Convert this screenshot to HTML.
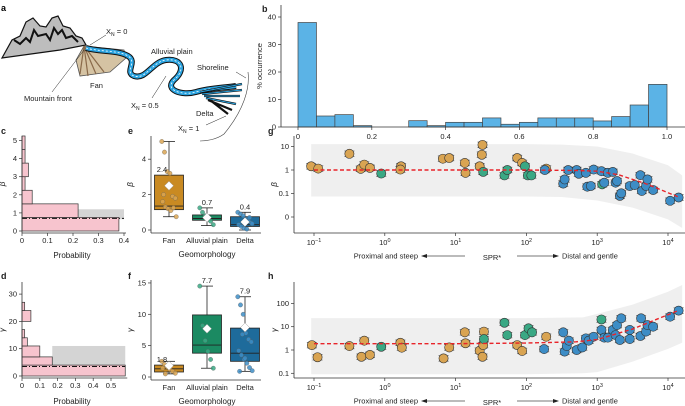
<!DOCTYPE html>
<html><head><meta charset="utf-8">
<style>
html,body{margin:0;padding:0;background:#fff;}
svg{display:block;font-family:"Liberation Sans",Arial,sans-serif;}
</style></head>
<body>
<svg id="fig" width="685" height="406" viewBox="0 0 685 406" xmlns="http://www.w3.org/2000/svg">
<g>
  <text x="1" y="11" font-size="9" font-weight="bold">a</text>
  <polygon points="2,58 12,40 20,36 26,22 33,18 40,26 46,27 52,18 58,16 63,26 70,28 76,36 82,38 86,45 60,50 2,58" fill="#bdbdbd" stroke="#111" stroke-width="1.2"/>
  <polyline points="14,40 20,44 26,38 30,42 34,30 38,36 46,34 50,40 54,28 58,34 62,30 66,38 72,36 78,42" fill="none" stroke="#111" stroke-width="2"/>
  <polygon points="84,46 124,50 126,58 110,72 80,76 76,60" fill="#d5c3a3" stroke="#555" stroke-width="0.8"/>
  <path d="M84,46 L80,74 M84,46 L88,76 M84,46 L96,74 M84,46 L104,72" stroke="#8a6a4a" stroke-width="1.2"/>
  <path d="M86,48 C100,52 118,50 128,56 C138,62 124,72 134,76 C146,80 152,62 166,60 C182,58 186,70 174,80 C164,90 182,96 196,92 C210,88 222,88 236,86" fill="none" stroke="#111" stroke-width="6"/>
  <path d="M86,48 C100,52 118,50 128,56 C138,62 124,72 134,76 C146,80 152,62 166,60 C182,58 186,70 174,80 C164,90 182,96 196,92 C210,88 222,88 236,86" fill="none" stroke="#2aa3e0" stroke-width="4"/>
  <path d="M86,48 C100,52 118,50 128,56 C138,62 124,72 134,76 C146,80 152,62 166,60 C182,58 186,70 174,80 C164,90 182,96 196,92 C210,88 222,88 236,86" fill="none" stroke="#fff" stroke-width="0.8" stroke-dasharray="2,2"/>
  <path d="M200,92 L242,84 M202,94 L242,90 M204,96 L240,96 M206,98 L236,104 M208,100 L232,110 M210,100 L228,114" stroke="#111" stroke-width="2.2"/>
  <path d="M200,92 L242,84 M202,94 L242,90 M204,96 L240,96 M206,98 L236,104" stroke="#2aa3e0" stroke-width="0.9"/>
  <path d="M248,72 C250,88 244,110 224,134 C216,140 205,141 200,141" fill="none" stroke="#444" stroke-width="0.6"/>
  <g font-size="7.5" fill="#222">
    <text x="106" y="34">X<tspan font-size="5" dy="2">N</tspan><tspan dy="-2"> = 0</tspan></text>
    <line x1="106" y1="35" x2="90" y2="45" stroke="#222" stroke-width="0.5"/>
    <text x="151" y="54">Alluvial plain</text>
    <text x="197" y="70">Shoreline</text>
    <line x1="236" y1="72" x2="246" y2="78" stroke="#222" stroke-width="0.5"/>
    <text x="90" y="88">Fan</text>
    <text x="24" y="101">Mountain front</text>
    <line x1="52" y1="92" x2="84" y2="50" stroke="#222" stroke-width="0.5"/>
    <text x="131" y="108">X<tspan font-size="5" dy="2">N</tspan><tspan dy="-2"> = 0.5</tspan></text>
    <line x1="152" y1="98" x2="166" y2="76" stroke="#222" stroke-width="0.5"/>
    <text x="196" y="116">Delta</text>
    <text x="178" y="131">X<tspan font-size="5" dy="2">N</tspan><tspan dy="-2"> = 1</tspan></text>
    <line x1="206" y1="125" x2="226" y2="116" stroke="#222" stroke-width="0.5"/>
  </g>
</g>
<g id="charts"></g>
</svg>
<script>
// ---------- DATA ----------
const bValues = [38,4,4.5,0.5,0,0,2.3,0.5,1.7,1.7,3.3,1,1.7,3.3,3.3,3.3,2.2,3.8,8,15.5];
const bTicksX = [0,0.2,0.4,0.6,0.8,1.0];
const bTicksXLabels = ["0","0.2","0.4","0.6","0.8","1.0"];
const bTicksY = [0,10,20,30,40];

const cEdges = [0,0.75,1.5,2.25,3,3.75,4.5,5.25];
const cProb = [0.38,0.22,0.04,0.012,0.025,0.012,0.012];
const cBand = [0.65,1.2,0.22];
const cLine = 0.7;
const cTicksY = [0,1,2,3,4,5];
const cTicksX = [0,0.1,0.2,0.3,0.4];

const dEdges = [0,4,7,11,14,17,20,24,27];
const dProb = [0.58,0.17,0.1,0.03,0.015,0,0.05,0.015];
const dBand = [2.5,11,0.17];
const dLine = 3.5;
const dTicksY = [0,10,20,30];
const dTicksX = [0,0.1,0.2,0.3,0.4,0.5];

const geoCats = ["Fan","Alluvial plain","Delta"];
const eStats = [[0.75,1.15,1.35,3.1,5.0,2.5],[0.25,0.55,0.65,0.85,1.25,0.7],[0.0,0.2,0.3,0.75,1.0,0.45]];
const eLabels = ["2.4","0.7","0.4"];
const ePts = [[5.0,4.4,3.3,3.2,1.9,1.8,1.6,1.3,1.2,1.1,1.25,0.75,2.0],[1.25,1.0,0.8,0.6,0.5,0.3],[1.0,0.9,0.8,0.6,0.5,0.4,0.3,0.2,0.1,0.05,0.7,0.35]];
const fStats = [[0.5,0.8,1.3,1.9,2.5,1.8],[1.4,3.8,5.1,9.9,14.5,7.7],[0.9,2.5,3.8,7.8,12.8,7.9]];
const fLabels = ["1.8","7.7","7.9"];
const fPts = [[2.5,2.0,1.6,1.2,0.9,0.6,1.4,0.5],[14.5,8.2,5.8,4.1,2.8,1.4],[12.8,11.5,10,7,6,5.6,4.2,3.5,2.8,2.2,1.5,1,0.9,6.8,3]];
const eTicks = [0,2,4];
const fTicks = [0,5,10,15];

const gSprLog = [-1.04,-0.94,-0.5,-0.34,-0.29,-0.21,0.23,0.22,0.82,0.91,1.13,1.14,1.38,1.37,1.34,1.87,1.94,2.28,
 -0.05,1.39,1.69,1.73,1.98,2.02,2.07,3.07,
 2.26,2.52,2.54,2.59,2.71,2.74,2.84,2.86,2.91,2.95,3.06,3.1,3.15,3.22,3.26,3.28,3.32,3.34,3.46,3.53,3.61,3.63,3.69,3.71,3.79,4.03,4.15];
const gBetaLog = [0.16,0.06,0.69,0.05,0.23,0.09,0.16,0.02,0.48,0.51,0.3,-0.12,1.07,0.65,0.16,0.51,0.3,0.06,
 -0.15,-0.08,-0.23,0.0,0.16,-0.23,-0.23,-0.61,
 0,-0.58,-0.4,0,0,-0.16,-0.12,-0.71,-0.68,0.02,-0.05,-0.54,-0.12,-0.08,-0.54,-0.47,-1.1,-0.99,-0.68,-0.64,-0.22,-0.89,-0.68,-0.4,-0.85,-1.31,-1.17];
const gGroup = [0,0,0,0,0,0,0,0,0,0,0,0,0,0,0,0,0,0, 1,1,1,1,1,1,1,1, 2,2,2,2,2,2,2,2,2,2,2,2,2,2,2,2,2,2,2,2,2,2,2,2,2,2,2];
const gTrendX = [-1,0,1,2,2.7,3,3.3,3.7,4.15];
const gTrendY = [0,0,0,0,-0.02,-0.05,-0.2,-0.6,-1.15];
const gBandX = [-1.04,0,1,2,2.5,3,3.5,4,4.2];
const gBandTop = [1.1,1.1,1.1,1.1,1.08,1.0,0.7,0.2,-0.23];
const gBandBot = [-1.13,-1.13,-1.13,-1.13,-1.15,-1.3,-1.6,-2.1,-2.47];
const gTicksY = [1,0,-1,-2];
const gTicksYLabels = ["10","1","0.1","0"];

const hSprLog = [-1.03,-0.95,-0.5,-0.29,-0.33,-0.21,0.22,0.24,0.83,0.91,1.13,1.14,1.34,1.39,1.4,1.38,1.87,1.94,2.28,
 -0.05,1.4,1.69,1.73,1.98,2.03,2.08,3.06,
 2.25,2.52,2.54,2.57,2.6,2.71,2.79,2.84,2.88,2.95,3.06,3.1,3.15,3.22,3.26,3.28,3.32,3.34,3.46,3.46,3.62,3.61,3.69,3.71,3.79,4.03,4.15];
const hGammaLog = [0.21,-0.31,0.17,0.4,-0.29,-0.21,0.31,0.1,-0.36,0.11,0.76,0.29,-0.03,0.21,0.79,-0.29,0.21,-0.04,0.57,
 0.14,0.47,1.17,0.64,0.64,0.93,0.76,1.31,
 0.04,0.76,-0.07,0.17,0.4,0,0.11,0.5,0.4,0.57,0.86,0.53,0.53,0.86,0.64,1.07,0.43,1.36,0.47,0.86,1.36,0.6,0.79,1.07,1.0,1.43,1.69];
const hGroup = [0,0,0,0,0,0,0,0,0,0,0,0,0,0,0,0,0,0,0, 1,1,1,1,1,1,1,1, 2,2,2,2,2,2,2,2,2,2,2,2,2,2,2,2,2,2,2,2,2,2,2,2,2,2,2];
const hTrendX = [-1,0,1,2,2.7,3,3.5,4.15];
const hTrendY = [0.27,0.27,0.27,0.3,0.35,0.45,0.9,1.7];
const hBandX = [-1.04,0,1,2,2.8,3,3.5,4,4.2];
const hBandTop = [1.37,1.37,1.37,1.37,1.4,1.55,1.95,2.5,2.79];
const hBandBot = [-1.04,-1.04,-1.04,-1.04,-1.0,-0.95,-0.5,0.05,0.31];
const hTicksY = [2,1,0,-1];
const hTicksYLabels = ["100","10","1","0.1"];
const sprTicks = [-1,0,1,2,3,4];

// ---------- helpers ----------
const NS = "http://www.w3.org/2000/svg";
const root = document.getElementById("charts");
function mk(tag, attrs, parent){
  const e = document.createElementNS(NS, tag);
  for (const k in attrs) e.setAttribute(k, attrs[k]);
  (parent||root).appendChild(e);
  return e;
}
function txt(x,y,s,size,anchor,parent,extra){
  const t = mk("text",Object.assign({x:x,y:y,"font-size":size,"text-anchor":anchor||"middle",fill:"#222"},extra||{}),parent);
  t.textContent = s;
  return t;
}
const AX = "#333";
const TF = 7.5, TT = 8;
const grpFill = ["#D9A452","#3AA884","#3D8DC6"];
const boxFill = ["#C98A22","#1B8A62","#1E6B9B"];

// ---------- panel b ----------
(function(){
  const g = mk("g",{});
  
  
  const xb = v => 298 + v*369, yb = v => 127 - v*(110/40);
  const lab = txt(262,12,"b",9,"start",g,{"font-weight":"bold"});
  
  
  bValues.forEach((v,i)=>{
    const r = mk("rect",{x:xb(i*0.05),y:yb(v),width:xb(0.05)-xb(0),height:Math.max(0,yb(0)-yb(v)),fill:"#5BB3E6",stroke:"#444","stroke-width":0.7},g);
    
    
  });
  mk("line",{x1:281,y1:5,x2:281,y2:127,stroke:AX,"stroke-width":0.8},g);
  mk("line",{x1:281,y1:127,x2:685,y2:127,stroke:AX,"stroke-width":0.8},g);
  bTicksY.forEach(t=>{mk("line",{x1:278,x2:281,y1:yb(t),y2:yb(t),stroke:AX,"stroke-width":0.7},g);txt(276,yb(t)+2.5,String(t),TF,"end",g);});
  bTicksX.forEach((t,i)=>{mk("line",{x1:xb(t),x2:xb(t),y1:127,y2:130,stroke:AX,"stroke-width":0.7},g);txt(xb(t),139,bTicksXLabels[i],TF,"middle",g);});
  const xl = txt(479,153,"X",TT,"middle",g);
  
  
  const ts = mk("tspan",{"font-size":5.5,dy:2},xl); ts.textContent="N";
  const yl = txt(0,0,"% occurrence",TF,"middle",g,{transform:"translate(262,66) rotate(-90)"});
  
  
})();

// ---------- panels c, d ----------
function probPanel(name,label,labY,edges,prob,band,lineV,ticksY,ticksX,y0,pxPerUnit,xPerProb,axTop,xMax){
  const g = mk("g",{});
  
  
  const xs = p => 22 + p*xPerProb, ys = v => y0 - v*pxPerUnit;
  const l = txt(1,labY,label,9,"start",g,{"font-weight":"bold"});
  
  
  const br = mk("rect",{x:xs(band[2]),y:ys(band[1]),width:xs(xMax)-xs(band[2]),height:ys(band[0])-ys(band[1]),fill:"#d4d4d4"},g);
  
  
  prob.forEach((p,i)=>{
    if(p<=0) return;
    const r = mk("rect",{x:xs(0),y:ys(edges[i+1]),width:xs(p)-xs(0),height:ys(edges[i])-ys(edges[i+1]),fill:"#F7C4CE",stroke:"#333","stroke-width":0.7},g);
    
    
  });
  const ln = mk("line",{x1:xs(0),x2:xs(xMax),y1:ys(lineV),y2:ys(lineV),stroke:"#111","stroke-width":1,"stroke-dasharray":"5,2,1,2"},g);
  
  
  mk("line",{x1:22,x2:22,y1:axTop,y2:y0+2,stroke:AX,"stroke-width":0.8},g);
  mk("line",{x1:22,x2:xs(xMax)+2,y1:y0+2,y2:y0+2,stroke:AX,"stroke-width":0.8},g);
  ticksY.forEach(t=>{mk("line",{x1:19,x2:22,y1:ys(t),y2:ys(t),stroke:AX,"stroke-width":0.7},g);txt(17,ys(t)+2.5,String(t),TF,"end",g);});
  ticksX.forEach(t=>{mk("line",{x1:xs(t),x2:xs(t),y1:y0+2,y2:y0+5,stroke:AX,"stroke-width":0.7},g);txt(xs(t),y0+12,String(t),TF,"middle",g);});
  return {g,xs,ys};
}
(function(){
  const c = probPanel("panel-c-beta-probability","c",134,cEdges,cProb,cBand,cLine,cTicksY,cTicksX,231,18.1,255,136,0.4);
  const t1 = txt(72,258,"Probability",TT,"middle",c.g);  
  const t2 = txt(0,0,"β",TT,"middle",c.g,{transform:"translate(5,184) rotate(-90)","font-style":"italic"});  
  const d = probPanel("panel-d-gamma-probability","d",279,dEdges,dProb,dBand,dLine,dTicksY,dTicksX,376,2.73,178,282,0.58);
  const t3 = txt(72,404,"Probability",TT,"middle",d.g);  
  const t4 = txt(0,0,"γ",TT,"middle",d.g,{transform:"translate(5,330) rotate(-90)","font-style":"italic"});  
})();

// ---------- panels e, f ----------
function boxPanel(name,label,labY,stats,labels,pts,ticks,y0,ppu,axTop,yName,bottomY){
  const g = mk("g",{});
  
  
  const cx = [169,207,245], ys = v => y0 - v*ppu;
  const l = txt(128,labY,label,9,"start",g,{"font-weight":"bold"});
  
  
  stats.forEach((s,i)=>{
    const x = cx[i];
    mk("line",{x1:x,x2:x,y1:ys(s[0]),y2:ys(s[4]),stroke:"#222","stroke-width":0.8},g);
    mk("line",{x1:x-6,x2:x+6,y1:ys(s[4]),y2:ys(s[4]),stroke:"#222","stroke-width":0.8},g);
    mk("line",{x1:x-6,x2:x+6,y1:ys(s[0]),y2:ys(s[0]),stroke:"#222","stroke-width":0.8},g);
    const b = mk("rect",{x:x-14.5,y:ys(s[3]),width:29,height:ys(s[1])-ys(s[3]),fill:boxFill[i],stroke:"#222","stroke-width":0.8},g);
    
    
    mk("line",{x1:x-14.5,x2:x+14.5,y1:ys(s[2]),y2:ys(s[2]),stroke:"#222","stroke-width":0.9},g);
    pts[i].forEach((p,j)=>{
      const off = ((j*37)%17-8)*0.9;
      const c = mk("circle",{cx:x+off,cy:ys(p),r:2.2,fill:grpFill[i],"fill-opacity":0.85,stroke:"#555","stroke-width":0.3},g);
      
      
    });
    const m = mk("rect",{x:x-3.2,y:ys(s[5])-3.2,width:6.4,height:6.4,fill:"#fff",stroke:"#888","stroke-width":0.4,transform:`rotate(45 ${x} ${ys(s[5])})`},g);
    
    
    const lt = txt(i===0?x-7:x,ys(i===0?s[3]:s[4])-3,labels[i],TF,"middle",g);
    
    
    txt(x,bottomY+10,geoCats[i],TF,"middle",g);
  });
  mk("line",{x1:151,x2:151,y1:axTop,y2:bottomY,stroke:AX,"stroke-width":0.8},g);
  mk("line",{x1:151,x2:261,y1:bottomY,y2:bottomY,stroke:AX,"stroke-width":0.8},g);
  ticks.forEach(t=>{mk("line",{x1:148,x2:151,y1:ys(t),y2:ys(t),stroke:AX,"stroke-width":0.7},g);txt(146,ys(t)+2.5,String(t),TF,"end",g);});
  const gt = txt(207,bottomY+24,"Geomorphology",TT,"middle",g);
  
  
  const yt = txt(0,0,yName,TT,"middle",g,{transform:`translate(133,${(axTop+bottomY)/2}) rotate(-90)`,"font-style":"italic"});
  
  
}
boxPanel("panel-e-beta-boxplot","e",134,eStats,eLabels,ePts,eTicks,230,17.7,136,"β",233);
boxPanel("panel-f-gamma-boxplot","f",279,fStats,fLabels,fPts,fTicks,377,6.27,280,"γ",380);

// ---------- panels g, h ----------
const xs = lx => 314 + (lx+1)*70.8;
function sprPanel(name,label,labY,sx,sy,grp,trX,trY,bX,bTop,bBot,ticksY,tickLabels,ys,axTop,bottomY,yName){
  const g = mk("g",{});
  
  
  const l = txt(268,labY,label,9,"start",g,{"font-weight":"bold"});
  
  
  let d = "";
  bX.forEach((x,i)=>{d += (i?"L":"M")+xs(x)+","+ys(bTop[i]);});
  for(let i=bX.length-1;i>=0;i--) d += "L"+xs(bX[i])+","+ys(bBot[i]);
  const band = mk("path",{d:d+"Z",fill:"#efefef"},g);
  
  
  sx.forEach((x,i)=>{
    const px = xs(x), py = ys(sy[i]);
    const lo = ys(sy[i]-0.12), hi = ys(sy[i]+0.12);
    mk("line",{x1:px,x2:px,y1:lo,y2:hi,stroke:"#444","stroke-width":0.6},g);
    mk("line",{x1:px-5,x2:px+5,y1:lo,y2:lo,stroke:"#444","stroke-width":0.6},g);
    mk("line",{x1:px-5,x2:px+5,y1:hi,y2:hi,stroke:"#444","stroke-width":0.6},g);
  });
  sx.forEach((x,i)=>{
    const c = mk("circle",{cx:xs(x),cy:ys(sy[i]),r:4.6,fill:grpFill[grp[i]],stroke:"#333","stroke-width":0.6},g);
    
    
  });
  const tp = mk("polyline",{points:trX.map((x,i)=>xs(x)+","+ys(trY[i])).join(" "),fill:"none",stroke:"#e8242a","stroke-width":1.4,"stroke-dasharray":"4,2.5"},g);
  
  
  mk("line",{x1:294,x2:294,y1:axTop,y2:bottomY,stroke:AX,"stroke-width":0.8},g);
  mk("line",{x1:294,x2:685,y1:bottomY,y2:bottomY,stroke:AX,"stroke-width":0.8},g);
  ticksY.forEach((t,i)=>{mk("line",{x1:291,x2:294,y1:ys(t),y2:ys(t),stroke:AX,"stroke-width":0.7},g);txt(289,ys(t)+2.5,tickLabels[i],TF,"end",g);});
  sprTicks.forEach(t=>{
    mk("line",{x1:xs(t),x2:xs(t),y1:bottomY,y2:bottomY+3,stroke:AX,"stroke-width":0.7},g);
    const tt = txt(xs(t),bottomY+12,"10",TF,"middle",g);
    const s = mk("tspan",{"font-size":5.5,dy:-3},tt); s.textContent = t<0?"−1":String(t);
  });
  const yt = txt(0,0,yName,TT,"middle",g,{transform:`translate(277,${(axTop+bottomY)/2}) rotate(-90)`,"font-style":"italic"});
  
  
  const ay = bottomY+23;
  const p1 = txt(418,ay+2.5,"Proximal and steep",TF,"end",g);
  
  
  mk("line",{x1:465,x2:425,y1:ay,y2:ay,stroke:"#777","stroke-width":1},g);
  mk("polygon",{points:`421,${ay} 427,${ay-2} 427,${ay+2}`,fill:"#222"},g);
  const sp = txt(492,ay+4,"SPR*",TF,"middle",g);
  
  
  mk("line",{x1:517,x2:555,y1:ay,y2:ay,stroke:"#777","stroke-width":1},g);
  mk("polygon",{points:`559,${ay} 553,${ay-2} 553,${ay+2}`,fill:"#222"},g);
  const p2 = txt(562,ay+2.5,"Distal and gentle",TF,"start",g);
  
  
}
sprPanel("panel-g-beta-vs-spr","g",134,gSprLog,gBetaLog,gGroup,gTrendX,gTrendY,gBandX,gBandTop,gBandBot,gTicksY,gTicksYLabels,lv=>170-lv*23.5,136,233,"β");
sprPanel("panel-h-gamma-vs-spr","h",279,hSprLog,hGammaLog,hGroup,hTrendX,hTrendY,hBandX,hBandTop,hBandBot,hTicksY,hTicksYLabels,lv=>350-lv*23.3,282,378,"γ");
</script>
</body></html>
